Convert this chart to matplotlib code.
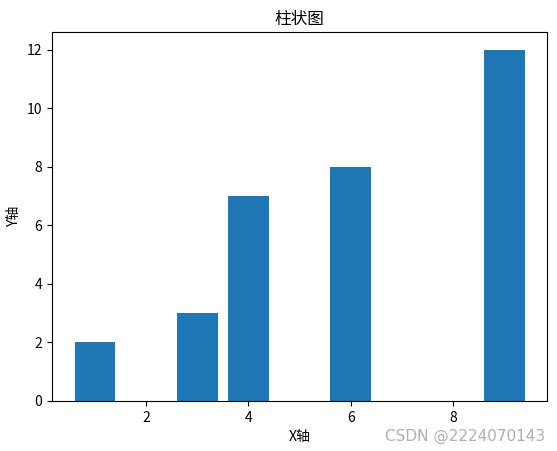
import matplotlib
matplotlib.use("Agg")
import matplotlib.pyplot as plt

plt.rcParams['font.family'] = ['Noto Sans CJK SC', 'DejaVu Sans']
plt.rcParams['axes.unicode_minus'] = False

x = [1, 3, 4, 6, 9]
y = [2, 3, 7, 8, 12]

W, H = 557, 451
fig = plt.figure(figsize=(W / 100, H / 100), dpi=100)
# axes box in pixels: left 52, right 547, top 32, bottom 401
ax = fig.add_axes([52 / W, 1 - 401 / H, (547 - 52) / W, (401 - 32) / H])
ax.bar(x, y)
ax.set_title('柱状图')
ax.set_xlabel('X轴')
ax.set_ylabel('Y轴')

fig.text(545 / W, 1 - 436 / H, 'CSDN @2224070143', ha='right', va='center',
         color='#b0b0b0', fontsize=11, family=['DejaVu Sans'])

fig.savefig('out.png', dpi=100)
